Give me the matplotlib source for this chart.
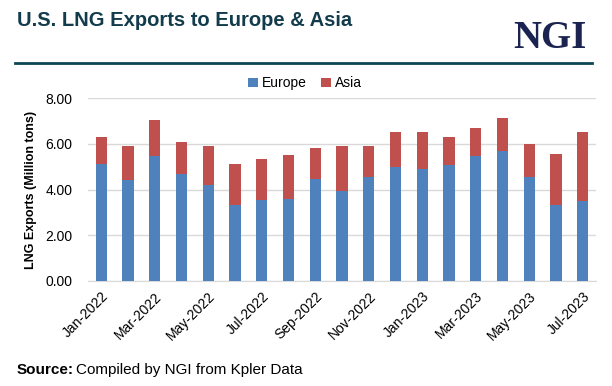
import numpy as np
import matplotlib
matplotlib.use("Agg")
import matplotlib.pyplot as plt

months = [
    "Jan-2022", "Feb-2022", "Mar-2022", "Apr-2022", "May-2022", "Jun-2022",
    "Jul-2022", "Aug-2022", "Sep-2022", "Oct-2022", "Nov-2022", "Dec-2022",
    "Jan-2023", "Feb-2023", "Mar-2023", "Apr-2023", "May-2023", "Jun-2023",
    "Jul-2023",
]
europe = [5.12, 4.42, 5.47, 4.69, 4.20, 3.33, 3.56, 3.59, 4.47, 3.94,
          4.53, 4.99, 4.88, 5.08, 5.47, 5.69, 4.55, 3.33, 3.50]
total = [6.29, 5.91, 7.05, 6.09, 5.91, 5.12, 5.34, 5.52, 5.82, 5.91,
         5.91, 6.50, 6.50, 6.31, 6.70, 7.14, 6.00, 5.56, 6.50]
asia = [t - e for t, e in zip(total, europe)]

BLUE = "#4F81BD"
RED = "#C0504D"
TEAL = "#123C4C"

plt.rcParams["font.family"] = ["Liberation Sans", "DejaVu Sans"]

fig = plt.figure(figsize=(6.12, 3.86), dpi=100)
ax = fig.add_axes([88 / 612, 1 - 281 / 386, (596 - 88) / 612, (281 - 98) / 386])

x = np.arange(len(months))
ax.bar(x, europe, width=0.42, color=BLUE, label="Europe", zorder=3)
ax.bar(x, asia, width=0.42, bottom=europe, color=RED, label="Asia", zorder=3)

ax.set_xlim(-0.5, len(months) - 0.5)
ax.set_ylim(0, 8)
yt = np.arange(0, 8.01, 2)
ax.set_yticks(yt)
ax.set_yticklabels([f"{v:.2f}" for v in yt], fontsize=10)
ax.yaxis.grid(True, color="#D9D9D9", linewidth=1, zorder=0)
ax.set_axisbelow(True)
for s in ["top", "right", "left"]:
    ax.spines[s].set_visible(False)
ax.spines["bottom"].set_color("#D9D9D9")
ax.tick_params(axis="y", length=0, pad=11)

ax.set_xticks(x[::2])
ax.set_xticklabels(months[::2], rotation=45, ha="right", rotation_mode="anchor",
                   fontsize=10)
ax.tick_params(axis="x", length=0, pad=6)

ax.set_ylabel("LNG Exports (Million tons)", fontsize=9, fontweight="bold",
              labelpad=6)

ax.legend(loc="center", bbox_to_anchor=(0.427, 1.08), ncol=2, frameon=False,
          fontsize=10, handlelength=0.7, handleheight=0.7, handletextpad=0.3,
          columnspacing=1.0, borderaxespad=0)

fig.text(17 / 612, 1 - 20 / 386, "U.S. LNG Exports to Europe & Asia",
         fontsize=14.5, fontweight="bold", color=TEAL, va="center")
fig.text(550 / 612, 1 - 38 / 386, "NGI", family="Liberation Serif",
         fontsize=28, fontweight="bold", color="#1B2350", ha="center",
         va="center")
fig.add_artist(plt.Line2D([15 / 612, 592 / 612], [1 - 63 / 386, 1 - 63 / 386],
                          color="#0D4654", linewidth=2))

fig.text(17 / 612, 1 - 370 / 386, "Source:", fontsize=11, fontweight="bold",
         va="center")
fig.text(76 / 612, 1 - 370 / 386, "Compiled by NGI from Kpler Data",
         fontsize=11, va="center")

fig.savefig("out.png", dpi=100)
